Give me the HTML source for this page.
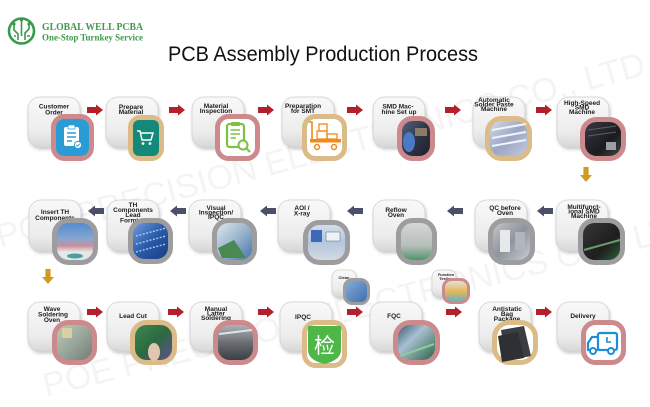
<!DOCTYPE html>
<html><head><meta charset="utf-8"><style>
html,body{margin:0;padding:0;background:#fff;}
svg{display:block;}
.l{font-family:"Liberation Sans",sans-serif;font-weight:bold;font-size:6.5px;fill:#1c1c1c;text-anchor:middle;}
</style></head><body>
<svg width="650" height="407" viewBox="0 0 650 407" xmlns="http://www.w3.org/2000/svg">
<defs>
<linearGradient id="card" x1="0" y1="0" x2="0" y2="1"><stop offset="0" stop-color="#f9f9f9"/><stop offset="0.7" stop-color="#ececec"/><stop offset="1" stop-color="#d8d8d8"/></linearGradient>
<filter id="sh" x="-20%" y="-20%" width="150%" height="150%"><feDropShadow dx="1" dy="2" stdDeviation="1.6" flood-color="#000" flood-opacity="0.22"/></filter>
<path id="ra" d="M0,-3 H9 V-5.5 L16,0 L9,5.5 V3 H0 Z" fill="#b3202b"/>
<path id="la" d="M16,-3 H7 V-5.5 L0,0 L7,5.5 V3 H16 Z" fill="#4b4f69"/>
<path id="da" d="M-2.6,0 V8 H-6 L0,15 L6,8 H2.6 V0 Z" fill="#d09a22"/>
<linearGradient id="pSMD" x1="0" y1="0" x2="1" y2="1"><stop offset="0" stop-color="#5a6a88"/><stop offset="0.5" stop-color="#2f3546"/><stop offset="1" stop-color="#1c1f28"/></linearGradient>
<linearGradient id="pAuto" x1="0" y1="0" x2="1" y2="1"><stop offset="0" stop-color="#dfe3ef"/><stop offset="0.5" stop-color="#9aa6c4"/><stop offset="1" stop-color="#c9cfe0"/></linearGradient>
<linearGradient id="pHigh" x1="0" y1="0" x2="1" y2="1"><stop offset="0" stop-color="#3a3c48"/><stop offset="0.6" stop-color="#1b1b1f"/><stop offset="1" stop-color="#4a4d52"/></linearGradient>
<linearGradient id="pIns" x1="0" y1="0" x2="0" y2="1"><stop offset="0" stop-color="#4a88d2"/><stop offset="0.45" stop-color="#8aa6d0"/><stop offset="0.6" stop-color="#c98f98"/><stop offset="0.75" stop-color="#e8e8e8"/><stop offset="1" stop-color="#dfe6e6"/></linearGradient>
<linearGradient id="pTH" x1="0" y1="0" x2="1" y2="1"><stop offset="0" stop-color="#7aa6e0"/><stop offset="0.5" stop-color="#2a5aaa"/><stop offset="1" stop-color="#163a78"/></linearGradient>
<linearGradient id="pVis" x1="0" y1="0" x2="1" y2="1"><stop offset="0" stop-color="#e8eef2"/><stop offset="0.5" stop-color="#9ab4cc"/><stop offset="1" stop-color="#3a6aa8"/></linearGradient>
<linearGradient id="pAOI" x1="0" y1="0" x2="0" y2="1"><stop offset="0" stop-color="#d8e0ea"/><stop offset="0.5" stop-color="#b4c6de"/><stop offset="1" stop-color="#d8dce2"/></linearGradient>
<linearGradient id="pRef" x1="0" y1="0" x2="0" y2="1"><stop offset="0" stop-color="#d6dad8"/><stop offset="0.6" stop-color="#b8bebb"/><stop offset="1" stop-color="#3f8c5e"/></linearGradient>
<linearGradient id="pQC" x1="0" y1="0" x2="1" y2="1"><stop offset="0" stop-color="#c8ccd2"/><stop offset="0.5" stop-color="#8e949c"/><stop offset="1" stop-color="#d2d6da"/></linearGradient>
<linearGradient id="pMul" x1="0" y1="0" x2="1" y2="1"><stop offset="0" stop-color="#3a3a3a"/><stop offset="0.6" stop-color="#1e1e1e"/><stop offset="1" stop-color="#2f6a3c"/></linearGradient>
<linearGradient id="pWave" x1="0" y1="0" x2="1" y2="1"><stop offset="0" stop-color="#c4ccc2"/><stop offset="0.5" stop-color="#9aa69a"/><stop offset="1" stop-color="#6c7670"/></linearGradient>
<linearGradient id="pLead" x1="0" y1="0" x2="1" y2="1"><stop offset="0" stop-color="#3f8a52"/><stop offset="0.5" stop-color="#2c6a40"/><stop offset="1" stop-color="#6a4a9a"/></linearGradient>
<linearGradient id="pMan" x1="0" y1="0" x2="0" y2="1"><stop offset="0" stop-color="#b8bcc0"/><stop offset="0.5" stop-color="#6a6e72"/><stop offset="1" stop-color="#34383c"/></linearGradient>
<linearGradient id="pFQC" x1="0" y1="0" x2="1" y2="1"><stop offset="0" stop-color="#2a4a5a"/><stop offset="0.4" stop-color="#a8c0d4"/><stop offset="1" stop-color="#1f5a32"/></linearGradient>
<linearGradient id="pClean" x1="0" y1="0" x2="1" y2="1"><stop offset="0" stop-color="#8ab0dc"/><stop offset="1" stop-color="#3a6aa8"/></linearGradient>
<linearGradient id="pFun" x1="0" y1="0" x2="0" y2="1"><stop offset="0" stop-color="#e0e6ee"/><stop offset="0.5" stop-color="#e8b85a"/><stop offset="1" stop-color="#5ab0c8"/></linearGradient>
</defs>

<!-- watermarks -->
<g font-family="Liberation Sans, sans-serif" font-size="34" fill="#000" fill-opacity="0.045">
<text x="0" y="248" transform="rotate(-15 0 248)">POE PRECISION ELECTRONICS CO., LTD</text>
<text x="46" y="397" transform="rotate(-14 46 397)">POE PRECISION ELECTRONICS CO., LTD</text>
</g>

<!-- logo -->
<g>
<circle cx="21.5" cy="31" r="12.5" fill="#fff" stroke="#3a9a4c" stroke-width="2.6"/>
<path d="M14,24 V30 L18,34 V40 M21.5,20 V36 M29,24 V29 L25,33 V40 M16,36 h-2 M27,36 h3" stroke="#3a9a4c" stroke-width="1.6" fill="none"/>
<circle cx="14" cy="24" r="1.6" fill="#3a9a4c"/><circle cx="29" cy="24" r="1.6" fill="#3a9a4c"/><circle cx="21.5" cy="20" r="1.6" fill="#3a9a4c"/>
<text x="42" y="30" font-family="Liberation Serif, serif" font-weight="bold" font-size="10.5" fill="#3f9b4e" textLength="101" lengthAdjust="spacingAndGlyphs">GLOBAL WELL PCBA</text>
<text x="42" y="40.5" font-family="Liberation Serif, serif" font-weight="bold" font-size="9" fill="#3f9b4e" textLength="101" lengthAdjust="spacingAndGlyphs">One-Stop Turnkey Service</text>
</g>

<!-- title -->
<text x="168" y="61" font-family="Liberation Sans, sans-serif" font-size="21" fill="#111" textLength="310" lengthAdjust="spacingAndGlyphs">PCB Assembly Production Process</text>

<!-- cards -->
<g fill="url(#card)" stroke="#d0d0d0" stroke-width="0.8" filter="url(#sh)">
<rect x="28" y="97" width="52" height="50" rx="12"/>
<rect x="106" y="97" width="52" height="50" rx="12"/>
<rect x="192" y="97" width="52" height="50" rx="12"/>
<rect x="282" y="97" width="52" height="50" rx="12"/>
<rect x="373" y="97" width="52" height="50" rx="12"/>
<rect x="473" y="97" width="52" height="50" rx="12"/>
<rect x="557" y="97" width="52" height="50" rx="12"/>

<rect x="29" y="200" width="52" height="51" rx="12"/>
<rect x="107" y="200" width="52" height="51" rx="12"/>
<rect x="189" y="200" width="52" height="51" rx="12"/>
<rect x="278" y="200" width="52" height="51" rx="12"/>
<rect x="373" y="200" width="52" height="51" rx="12"/>
<rect x="475" y="200" width="52" height="51" rx="12"/>
<rect x="556" y="200" width="52" height="51" rx="12"/>

<rect x="28" y="302" width="52" height="49" rx="12"/>
<rect x="107" y="302" width="52" height="49" rx="12"/>
<rect x="190" y="302" width="52" height="49" rx="12"/>
<rect x="280" y="302" width="52" height="49" rx="12"/>
<rect x="370" y="302" width="52" height="49" rx="12"/>
<rect x="479" y="302" width="52" height="49" rx="12"/>
<rect x="557" y="302" width="52" height="49" rx="12"/>

<rect x="332" y="270" width="24" height="27" rx="7"/>
<rect x="432" y="270" width="24" height="27" rx="7"/>
</g>

<!-- labels -->
<text class="l" x="54" y="108.5">Customer</text><text class="l" x="54" y="114.5">Order</text>
<text class="l" x="131" y="109">Prepare</text><text class="l" x="131" y="114">Material</text>
<text class="l" x="216" y="108">Material</text><text class="l" x="216" y="113">Inspection</text>
<text class="l" x="303" y="108">Preparation</text><text class="l" x="303" y="113">for SMT</text>
<text class="l" x="398" y="108.5">SMD Mac-</text><text class="l" x="399" y="114">hine Set up</text>
<text class="l" x="494" y="102">Automatic</text><text class="l" x="494" y="106.5">Solder Paste</text><text class="l" x="494" y="111">Machine</text>
<text class="l" x="582" y="105">High-Speed</text><text class="l" x="582" y="109.5">SMD</text><text class="l" x="582" y="114">Machine</text>

<text class="l" x="55" y="214">Insert TH</text><text class="l" x="55" y="220">Components</text>
<text class="l" x="133" y="207">TH</text><text class="l" x="133" y="212">Components</text><text class="l" x="133" y="217">Lead</text><text class="l" x="133" y="222.5">Forming</text>
<text class="l" x="216" y="210">Visual</text><text class="l" x="216" y="214.5">Inspection/</text><text class="l" x="216" y="219">IPQC</text>
<text class="l" x="302" y="210">AOI /</text><text class="l" x="302" y="215.5">X-ray</text>
<text class="l" x="396" y="212">Reflow</text><text class="l" x="396" y="217">Oven</text>
<text class="l" x="505" y="210">QC before</text><text class="l" x="505" y="215">Oven</text>
<text class="l" x="584" y="209">Multifunct-</text><text class="l" x="584" y="213.5">ional SMD</text><text class="l" x="584" y="218">Machine</text>

<text class="l" x="52" y="311">Wave</text><text class="l" x="53" y="316.5">Soldering</text><text class="l" x="52" y="322">Oven</text>
<text class="l" x="133" y="318">Lead Cut</text>
<text class="l" x="216" y="311">Manual</text><text class="l" x="216" y="315.5">Latter</text><text class="l" x="216" y="320">Soldering</text>
<text class="l" x="303" y="319">IPQC</text>
<text class="l" x="394" y="318">FQC</text>
<text class="l" x="507" y="311">Antistatic</text><text class="l" x="507" y="316">Bag</text><text class="l" x="507" y="321">Package</text>
<text class="l" x="583" y="318">Delivery</text>
<text class="l" x="344" y="279" style="font-size:4px">Clean</text>
<text class="l" x="446" y="276" style="font-size:3.8px">Function</text><text class="l" x="446" y="280" style="font-size:3.8px">Testing</text>

<!-- arrows -->
<use href="#ra" transform="translate(87,110)"/>
<use href="#ra" transform="translate(169,110)"/>
<use href="#ra" transform="translate(258,110)"/>
<use href="#ra" transform="translate(347,110)"/>
<use href="#ra" transform="translate(445,110)"/>
<use href="#ra" transform="translate(536,110)"/>

<use href="#la" transform="translate(88,211)"/>
<use href="#la" transform="translate(170,211)"/>
<use href="#la" transform="translate(260,211)"/>
<use href="#la" transform="translate(347,211)"/>
<use href="#la" transform="translate(447,211)"/>
<use href="#la" transform="translate(537,211)"/>

<use href="#ra" transform="translate(87,312)"/>
<use href="#ra" transform="translate(168,312)"/>
<use href="#ra" transform="translate(258,312)"/>
<use href="#ra" transform="translate(347,312)"/>
<use href="#ra" transform="translate(446,312)"/>
<use href="#ra" transform="translate(536,312)"/>

<use href="#da" transform="translate(586,167)"/>
<use href="#da" transform="translate(48,269)"/>

<!-- ROW 1 rings -->
<rect x="53.5" y="116.5" width="38" height="42" rx="11" fill="#fff" stroke="#cd8a8c" stroke-width="5"/>
<rect x="56" y="119" width="33" height="37" rx="8" fill="#2b9bd5"/>
<rect x="64" y="127" width="15" height="19" rx="2" fill="#fff"/>
<rect x="68" y="125" width="7" height="4" rx="1" fill="#fff" stroke="#2b9bd5" stroke-width="0.8"/>
<path d="M67,133 H76 M67,137 H76 M67,141 H72" stroke="#2b9bd5" stroke-width="1.4"/>
<circle cx="78" cy="145" r="3.6" fill="#fff" stroke="#2b9bd5" stroke-width="1"/>
<path d="M76.3,145 l1.2,1.2 l2.2,-2.4" stroke="#2b9bd5" stroke-width="1" fill="none"/>

<rect x="130.5" y="117.5" width="31" height="41" rx="10" fill="#fff" stroke="#dbbb88" stroke-width="5"/>
<rect x="133" y="120" width="26" height="36" rx="6" fill="#13897a"/>
<path d="M137,131 H140 L142,140 H151 L153,133 H141" stroke="#fff" stroke-width="1.5" fill="none"/>
<circle cx="143" cy="143.5" r="1.4" fill="#fff"/><circle cx="150" cy="143.5" r="1.4" fill="#fff"/>

<rect x="217.5" y="116.5" width="40" height="42" rx="11" fill="#fff" stroke="#cd8a8c" stroke-width="5"/>
<rect x="227" y="124" width="17" height="23" rx="2.5" fill="none" stroke="#7cc142" stroke-width="2.2"/>
<rect x="231" y="122" width="9" height="4" rx="1" fill="#7cc142"/>
<path d="M230.5,130 H240 M230.5,134 H240 M230.5,138 H236" stroke="#7cc142" stroke-width="1.6"/>
<circle cx="243" cy="145" r="4.5" fill="#fff" stroke="#7cc142" stroke-width="2"/>
<path d="M246,148 L250,152" stroke="#7cc142" stroke-width="2.2"/>

<rect x="304.5" y="116.5" width="40" height="42" rx="11" fill="#fff" stroke="#dbbb88" stroke-width="5"/>
<path d="M309,122 H312 V140" stroke="#f08a1d" stroke-width="1.6" fill="none"/>
<rect x="310" y="139" width="31" height="3.5" fill="#f08a1d"/>
<circle cx="317" cy="147" r="2.5" fill="#fff" stroke="#f08a1d" stroke-width="1.5"/>
<circle cx="334" cy="147" r="2.5" fill="#fff" stroke="#f08a1d" stroke-width="1.5"/>
<rect x="317" y="131" width="10" height="8" fill="none" stroke="#f08a1d" stroke-width="1.3"/>
<rect x="327" y="134" width="10" height="5" fill="none" stroke="#f08a1d" stroke-width="1.3"/>
<rect x="319" y="124" width="8" height="7" fill="none" stroke="#f08a1d" stroke-width="1.3"/>

<rect x="399.5" y="118.5" width="33" height="40" rx="13" fill="url(#pSMD)" stroke="#cd8a8c" stroke-width="5"/>
<ellipse cx="409" cy="142" rx="6" ry="10" fill="#4b7ac4"/>
<rect x="415" y="128" width="12" height="8" fill="#8a7a66"/>

<rect x="487.5" y="118.5" width="42" height="40" rx="14" fill="url(#pAuto)" stroke="#dbbb88" stroke-width="5"/>
<path d="M492,130 L526,124 M492,138 L526,132 M492,146 L526,140" stroke="#f2f4fa" stroke-width="2"/>

<rect x="582.5" y="119.5" width="41" height="39" rx="14" fill="url(#pHigh)" stroke="#cd8a8c" stroke-width="5"/>
<rect x="606" y="142" width="10" height="8" fill="#9aa0a6"/>
<path d="M588,130 L616,126 M588,136 L616,132" stroke="#5a5e66" stroke-width="1"/>

<!-- ROW 2 rings -->
<rect x="54.5" y="220.5" width="41" height="42" rx="14" fill="url(#pIns)" stroke="#9d9d9f" stroke-width="5"/>
<ellipse cx="75" cy="256" rx="8" ry="2.5" fill="#4aa0a0"/>
<rect x="130.5" y="220.5" width="40" height="41" rx="14" fill="url(#pTH)" stroke="#9d9d9f" stroke-width="5"/>
<path d="M136,236 L166,228 M136,244 L166,236 M136,252 L166,244" stroke="#9cc4f0" stroke-width="1.5" stroke-dasharray="2 1.5"/>
<rect x="214.5" y="220.5" width="40" height="42" rx="14" fill="url(#pVis)" stroke="#9d9d9f" stroke-width="5"/>
<path d="M218,248 L234,240 L246,258 L222,258 Z" fill="#4a8a52"/>
<rect x="305.5" y="222.5" width="42" height="40" rx="14" fill="url(#pAOI)" stroke="#9d9d9f" stroke-width="5"/>
<rect x="311" y="230" width="11" height="12" fill="#3a6ab8"/><rect x="326" y="232" width="14" height="9" fill="#eef2f6" stroke="#6a7a8a" stroke-width="0.6"/>
<rect x="398.5" y="220.5" width="36" height="42" rx="14" fill="url(#pRef)" stroke="#9d9d9f" stroke-width="5"/>
<rect x="490.5" y="220.5" width="42" height="42" rx="14" fill="url(#pQC)" stroke="#9d9d9f" stroke-width="5"/>
<rect x="500" y="230" width="10" height="22" fill="#e6e8ea"/><rect x="515" y="232" width="10" height="18" fill="#b0b6bc"/>
<rect x="580.5" y="220.5" width="42" height="42" rx="14" fill="url(#pMul)" stroke="#9d9d9f" stroke-width="5"/>
<path d="M584,250 L620,240" stroke="#6a9a6a" stroke-width="2"/>

<!-- small rings -->
<rect x="344.5" y="279.5" width="24" height="24" rx="8" fill="url(#pClean)" stroke="#9d9d9f" stroke-width="3"/>
<rect x="443.5" y="279.5" width="25" height="23" rx="8" fill="url(#pFun)" stroke="#cd8a8c" stroke-width="3"/>

<!-- ROW 3 rings -->
<rect x="54.5" y="322.5" width="40" height="40" rx="14" fill="url(#pWave)" stroke="#cd8a8c" stroke-width="5"/>
<rect x="62" y="328" width="10" height="10" fill="#d8d0a0"/>
<rect x="132.5" y="322.5" width="42" height="40" rx="14" fill="url(#pLead)" stroke="#dbbb88" stroke-width="5"/>
<ellipse cx="154" cy="352" rx="6" ry="9" fill="#e2c6b0"/>
<rect x="215.5" y="322.5" width="40" height="40" rx="14" fill="url(#pMan)" stroke="#cd8a8c" stroke-width="5"/>
<path d="M219,334 L252,330" stroke="#dfe2e6" stroke-width="2"/>
<rect x="304.5" y="322.5" width="40" height="43" rx="11" fill="#fff" stroke="#dbbb88" stroke-width="5"/>
<path d="M308,326 H341 V350 Q341,360 324.5,364 Q308,360 308,350 Z" fill="#4fb748"/>
<text x="324.5" y="353" font-family="Liberation Sans, 'Noto Sans CJK SC', sans-serif" font-size="21" fill="#fff" text-anchor="middle">检</text>
<rect x="395.5" y="322.5" width="42" height="40" rx="15" fill="url(#pFQC)" stroke="#cd8a8c" stroke-width="5"/>
<path d="M400,356 L434,344" stroke="#8acc9a" stroke-width="2"/>
<rect x="494.5" y="322.5" width="41" height="40" rx="15" fill="#fff" stroke="#dbbb88" stroke-width="5"/>
<path d="M501,330 L524,326 L531,356 L506,361 Z" fill="#3b3d42"/>
<path d="M498,336 L518,332 L524,358 L502,362 Z" fill="#2e3034"/>
<rect x="583.5" y="322.5" width="40" height="40" rx="12" fill="#fff" stroke="#cd8a8c" stroke-width="5"/>
<rect x="598" y="333" width="19" height="17" rx="2" fill="none" stroke="#1c8ed6" stroke-width="2.2"/>
<path d="M598,337 H592 L588,343 V350 H598" fill="none" stroke="#1c8ed6" stroke-width="2.2"/>
<path d="M607,337 V342 H611" fill="none" stroke="#1c8ed6" stroke-width="1.6"/>
<circle cx="593" cy="351" r="3" fill="#fff" stroke="#1c8ed6" stroke-width="2"/>
<circle cx="611" cy="351" r="3" fill="#fff" stroke="#1c8ed6" stroke-width="2"/>
</svg>
</body></html>
